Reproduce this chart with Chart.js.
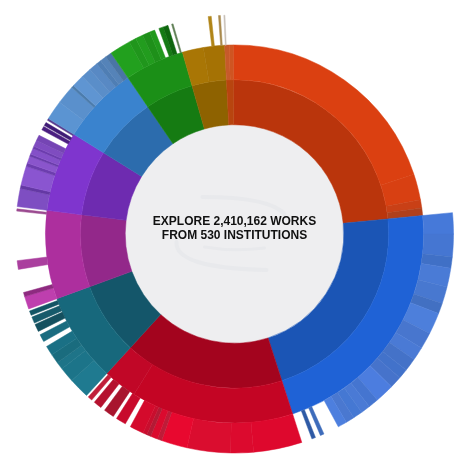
<!DOCTYPE html>
<html>
<head>
<meta charset="utf-8">
<style>html,body{margin:0;padding:0;background:#fff}canvas{display:block}</style>
<script src="https://cdn.jsdelivr.net/npm/chart.js@4/dist/chart.umd.min.js"></script>
</head>
<body>
<canvas id="c" width="474" height="467"></canvas>
<script>
const centerLines = ["EXPLORE 2,410,162 WORKS", "FROM 530 INSTITUTIONS"];
const GAP = "rgba(255,255,255,0)";

// Inner ring: top-level shares (degrees of the circle)
const innerValues = [84.8, 77.7, 60.4, 27.5, 27.2, 24.6, 23.9, 18.3, 13, 2.6];
const innerColors = ["#BA350C","#1B55B5","#A3041E","#14566A","#93288A","#6E2BB0","#2C6CAD","#157B12","#8E6200","#B8450F"];

// Middle ring
const middleValues = [72, 8, 2.5, 2.3, 77.7, 50, 10.4, 27.5, 27.2, 24.6, 23.9, 18.3, 6.5, 6.5, 1.4, 1.2];
const middleColors = ["#DB4011","#D84012","#C94016","#B0401C","#1F62D6","#C40524","#C10727","#17687C","#AD2F9E","#7F35CE","#3A83CE","#1B8F17","#A97605","#A57204","#C65A2A","#CF5522"];

// Outer ring, one family at a time (gaps are part of the circle)
const outerRed = [84.8];
const outerRedColors = [GAP];
const outerBlue = [5.6,6,3,5,4.5,2.8,5.7,4.4,3.6,3.4,2.6,3.2,5.1,2.7,2.5,2.5,2.3,2.4,4.2,1,1.4,1,2.8];
const outerBlueColors = ["#4679D9","#4576D2","#4070C6","#4A7BD6","#4878D0","#4270C2","#4D7FDB","#4876CE","#4A7AD5","#4472C8","#4272CA","#4673CB","#4C7DDF","#4575D0","#4A7AD5","#4578D3","#4A78D0","#4D7FDE",GAP,"#3E6CBB",GAP,"#2E5AA5",GAP];
const outerCrimson = [12.9,6,11.5,6.9,1.2,1.9,1.1,1.1,3.7,1.5,2.7,1,2.8,1.2,2.2,0.9,1.2,0.6];
const outerCrimsonColors = ["#DE082D","#DC0A2E","#DA0D2F","#E8082F","#BE1C38","#DB0A2E","#B31A35","#C80E2E","#D40A2C",GAP,"#C80A2C",GAP,"#A8152E",GAP,"#B5122F",GAP,"#C01F3A",GAP];
const outerTeal = [5.5,4,2,2.5,2.6,1.5,2,1,2,0.4,1.7,0.5,1.2,0.6];
const outerTealColors = ["#1F7A90","#1C7489","#1E7488","#1A6C7E","#1A7085",GAP,"#1A6C80",GAP,"#14505F",GAP,"#165A6B",GAP,"#135565",GAP];
const outerMagenta = [3.4,1.1,6.2,2.3,13,0.6,0.6];
const outerMagentaColors = ["#BE3FAE","#8E2A80",GAP,"#AA3F9E",GAP,"#9B4A90",GAP];
const outerPurple = [4.8,0.9,5.1,0.9,1.9,0.6,1.6,0.6,1.7,1.5,1.6,1,0.3,0.9,0.7,0.5];
const outerPurpleColors = ["#7E4EC2","#6438A4","#8A55D0","#6C3DAE","#8A55CC","#693CAA","#8450C8","#6C3CAE","#7F4CC0","#7545B4",GAP,"#4A1E80",GAP,"#3F1A75",GAP,"#5A3C8E"];
const outerSteel = [5.2,5,0.7,3.3,2.7,2.3,1.3,1.7,1.7];
const outerSteelColors = ["#5B94D2","#5A90CC","#4C7CAC","#5F95D2","#5A8EC9","#5889C4","#4F7EB4","#5583B8","#4A75A5"];
const outerGreen = [5.6,1.9,2,2,1.4,1.2,1.2,1.3,1,0.4,0.3];
const outerGreenColors = ["#22A01E","#20961C","#229C1E","#1E901A","#21991D",GAP,"#157A14","#0E660E",GAP,"#5F7F55",GAP];
const outerGold = [9.1,0.8,1.9,0.5,0.7];
const outerGoldColors = [GAP,"#B08518",GAP,"#A8894C",GAP];
const outerOrange = [0.2,0.3,2.1];
const outerOrangeColors = [GAP,"#C8C0B8",GAP];

const outerValues = [].concat(outerRed,outerBlue,outerCrimson,outerTeal,outerMagenta,outerPurple,outerSteel,outerGreen,outerGold,outerOrange);
const outerColors = [].concat(outerRedColors,outerBlueColors,outerCrimsonColors,outerTealColors,outerMagentaColors,outerPurpleColors,outerSteelColors,outerGreenColors,outerGoldColors,outerOrangeColors);

const centerPlugin = {
  id: "centerPlugin",
  afterDatasetsDraw(chart) {
    const arc = chart.getDatasetMeta(3).data[0];
    const x = arc.x, y = arc.y, ctx = chart.ctx;
    ctx.save();
    // faint watermark behind the text
    ctx.strokeStyle = "#E8E9EC";
    ctx.lineCap = "round";
    ctx.lineWidth = 4;
    ctx.beginPath();
    ctx.moveTo(x - 32, y - 37);
    ctx.quadraticCurveTo(x + 35, y - 37, x + 50, y - 20);
    ctx.stroke();
    ctx.beginPath();
    ctx.moveTo(x - 58, y + 8);
    ctx.quadraticCurveTo(x - 60, y + 34, x + 32, y + 36);
    ctx.stroke();
    ctx.lineWidth = 3;
    ctx.beginPath();
    ctx.moveTo(x - 30, y + 13);
    ctx.quadraticCurveTo(x, y + 18, x + 30, y + 14);
    ctx.stroke();
    // label
    ctx.fillStyle = "#111111";
    ctx.font = 'bold 12px "Liberation Sans", Arial, sans-serif';
    ctx.textAlign = "center";
    ctx.textBaseline = "middle";
    ctx.fillText(centerLines[0], x, y - 12.5);
    ctx.fillText(centerLines[1], x, y + 2);
    ctx.restore();
  }
};

new Chart(document.getElementById("c"), {
  type: "doughnut",
  data: {
    datasets: [
      { data: outerValues, backgroundColor: outerColors, borderColor: outerColors, weight: 30 },
      { data: middleValues, backgroundColor: middleColors, borderColor: middleColors, weight: 35 },
      { data: innerValues, backgroundColor: innerColors, borderColor: innerColors, weight: 45 },
      { data: [1], backgroundColor: ["#EEEEF0"], borderColor: ["#EEEEF0"], weight: 109.5 }
    ]
  },
  options: {
    responsive: false,
    animation: false,
    cutout: 0,
    rotation: -0.4,
    borderWidth: 0.5,
    layout: { padding: { left: 15.25, right: 20.25, top: 14.75, bottom: 13.75 } },
    plugins: { legend: { display: false }, tooltip: { enabled: false } },
    events: []
  },
  plugins: [centerPlugin]
});
</script>
</body>
</html>
